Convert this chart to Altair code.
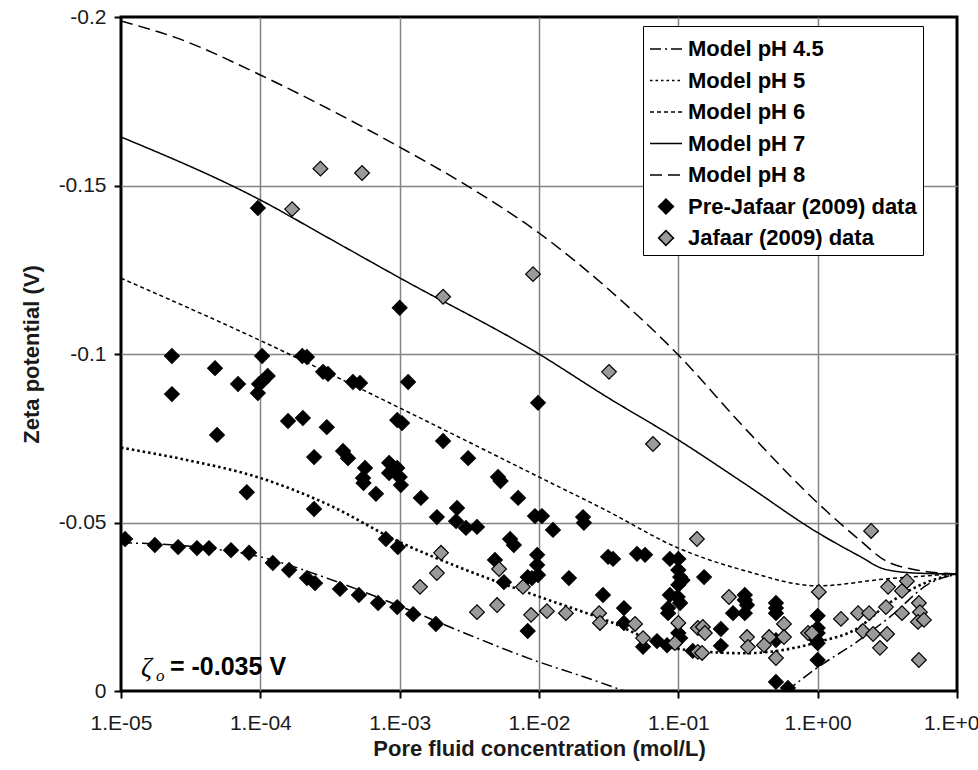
import altair as alt
import pandas as pd

SERIES = [
    "Model pH 4.5",
    "Model pH 5",
    "Model pH 6",
    "Model pH 7",
    "Model pH 8",
    "Pre-Jafaar (2009) data",
    "Jafaar (2009) data",
]

# ---- model curves (concentration in mol/L, zeta potential in V) ----
ph45_low_conc = [1e-5, 3e-5, 1e-4, 3e-4, 1e-3, 3e-3, 1e-2, 2e-2, 4.1e-2]
ph45_low_zeta = [-0.0440, -0.0430, -0.0398, -0.0335, -0.0252, -0.0170, -0.0086, -0.0045, 0.0]
ph45_high_conc = [0.6, 1.0, 1.9, 3.3, 6.4, 10.0]
ph45_high_zeta = [0.0, -0.0070, -0.0145, -0.0220, -0.0320, -0.0348]

ph5_conc = [1e-5, 3e-5, 1e-4, 3e-4, 1e-3, 3e-3, 1e-2, 3e-2, 1e-1, 3e-1, 1.0, 2.0, 3.0, 6.0, 10.0]
ph5_zeta = [-0.0722, -0.0685, -0.0632, -0.0555, -0.0442, -0.0359, -0.0280, -0.0211, -0.0125,
            -0.0112, -0.0145, -0.0190, -0.0250, -0.0322, -0.0348]

ph6_conc = [1e-5, 1e-4, 1e-3, 1e-2, 3e-2, 1e-1, 3e-1, 1.0, 3.0, 10.0]
ph6_zeta = [-0.1225, -0.1040, -0.0840, -0.0635, -0.0537, -0.0424, -0.0357, -0.0312, -0.0332, -0.0348]

ph7_conc = [1e-5, 1e-4, 3e-4, 1e-3, 1e-2, 3e-2, 1e-1, 3e-1, 1.0, 2.0, 3.0, 5.0, 10.0]
ph7_zeta = [-0.1644, -0.1457, -0.1347, -0.1226, -0.1000, -0.0875, -0.0745, -0.0615, -0.0470,
            -0.0400, -0.0362, -0.0350, -0.0347]

ph8_conc = [1e-5, 2.5e-5, 1e-4, 3e-4, 1e-3, 3e-3, 1e-2, 3e-2, 1e-1, 3e-1, 1.0, 2.0, 3.0, 5.0, 10.0]
ph8_zeta = [-0.1988, -0.1938, -0.1828, -0.1730, -0.1614, -0.1501, -0.1359, -0.1200, -0.0997,
            -0.0780, -0.0558, -0.0448, -0.0389, -0.0360, -0.0347]

# ---- measured data: pre-Jafaar (2009) compilation ----
pre_conc = [
    9.6e-5, 1.0e-3, 2.32e-5, 2.32e-5, 1.03e-4, 4.73e-5, 6.92e-5, 9.8e-5, 1.13e-4, 1.04e-4,
    9.6e-5, 2.0e-4, 2.16e-4, 2.82e-4, 3.06e-4, 4.62e-4, 5.19e-4, 1.15e-3, 9.6e-4, 1.04e-3,
    4.89e-5, 1.58e-4, 2.02e-4, 3.0e-4, 2.43e-4, 3.92e-4, 4.26e-4, 5.64e-4, 8.4e-4, 9.6e-4,
    8.4e-4, 1.0e-3, 5.46e-4, 8.0e-5, 2.43e-4, 5.5e-4, 6.76e-4, 1.02e-3, 7.97e-4, 9.7e-4,
    1.07e-5, 1.75e-5, 2.57e-5, 3.51e-5, 4.28e-5, 6.16e-5, 8.3e-5, 1.23e-4, 1.61e-4, 2.16e-4,
    2.47e-4, 3.73e-4, 5.1e-4, 7.0e-4, 9.6e-4, 9.84e-3, 2.05e-3, 3.1e-3, 5.08e-3, 1.25e-3,
    1.82e-3, 1.42e-3, 1.85e-3, 2.58e-3, 2.54e-3, 2.99e-3, 3.59e-3, 5.3e-3, 7.08e-3, 6.2e-3,
    6.6e-3, 4.83e-3, 5.6e-3, 9.35e-3, 1.05e-2, 1.26e-2, 9.7e-3, 9.7e-3, 9.84e-3, 8.9e-3,
    8.3e-3, 8.3e-3, 2.07e-2, 2.1e-2, 1.64e-2, 2.88e-2, 3.13e-2, 3.4e-2, 4.07e-2, 4.07e-2,
    5.05e-2, 5.77e-2, 5.58e-2, 7.03e-2, 8.3e-2, 0.087, 0.100, 0.100, 0.103, 0.107,
    0.100, 0.087, 0.099, 0.103, 0.0845, 0.0845, 0.100, 0.103, 0.127, 0.153,
    0.300, 0.300, 0.311, 0.300, 0.247, 0.502, 0.502, 0.502, 0.202, 0.202,
    0.502, 0.502, 0.612, 1.0, 1.0, 1.0, 0.98, 1.0, 1.0,
]
pre_zeta = [
    -0.1433, -0.1137, -0.0994, -0.0881, -0.0994, -0.0958, -0.0911, -0.0911, -0.0935, -0.0920,
    -0.0884, -0.0994, -0.0991, -0.0947, -0.0941, -0.0917, -0.0914, -0.0917, -0.0804, -0.0795,
    -0.0760, -0.0801, -0.0810, -0.0783, -0.0694, -0.0712, -0.0691, -0.0662, -0.0677, -0.0662,
    -0.0647, -0.0635, -0.0632, -0.0590, -0.0540, -0.0617, -0.0585, -0.0611, -0.0451, -0.0427,
    -0.0451, -0.0433, -0.0427, -0.0424, -0.0424, -0.0418, -0.0410, -0.0380, -0.0359, -0.0335,
    -0.0320, -0.0303, -0.0285, -0.0261, -0.0249, -0.0855, -0.0742, -0.0691, -0.0635, -0.0228,
    -0.0199, -0.0573, -0.0516, -0.0543, -0.0504, -0.0484, -0.0487, -0.0623, -0.0573, -0.0451,
    -0.0433, -0.0389, -0.0323, -0.0519, -0.0519, -0.0478, -0.0404, -0.0374, -0.0344, -0.0335,
    -0.0338, -0.0178, -0.0516, -0.0499, -0.0335, -0.0285, -0.0398, -0.0392, -0.0246, -0.0202,
    -0.0407, -0.0404, -0.0131, -0.0148, -0.0136, -0.0392, -0.0392, -0.0359, -0.0338, -0.0329,
    -0.0315, -0.0285, -0.0279, -0.0261, -0.0246, -0.0231, -0.0172, -0.0157, -0.0119, -0.0338,
    -0.0285, -0.0270, -0.0255, -0.0231, -0.0231, -0.0261, -0.0246, -0.0231, -0.0184, -0.0134,
    -0.0151, -0.0027, -0.0009, -0.0223, -0.0187, -0.0172, -0.0151, -0.0142, -0.0092,
]

# ---- measured data: Jafaar (2009) ----
jaf_conc = [
    2.7e-4, 5.37e-4, 1.69e-4, 9.06e-3, 2.05e-3, 3.18e-2, 6.58e-2, 1.98e-3, 1.85e-3, 1.4e-3,
    3.59e-3, 5.0e-3, 5.17e-3, 7.67e-3, 8.77e-3, 1.14e-2, 1.56e-2, 2.7e-2, 2.74e-2, 4.89e-2,
    5.58e-2, 9.46e-2, 0.100, 0.136, 0.138, 0.138, 0.231, 0.573, 0.150, 0.155,
    0.148, 0.311, 0.316, 0.448, 0.412, 0.573, 0.502, 0.853, 1.02, 0.91,
    1.47, 1.95, 2.34, 2.11, 2.5, 3.15, 2.8, 3.09, 3.2, 4.03,
    4.37, 4.03, 5.33, 5.42, 5.25, 5.79, 5.33, 2.42,
]
jaf_zeta = [
    -0.1550, -0.1537, -0.1430, -0.1237, -0.1170, -0.0947, -0.0733, -0.0410, -0.0350, -0.0309,
    -0.0234, -0.0255, -0.0362, -0.0309, -0.0226, -0.0237, -0.0231, -0.0231, -0.0202, -0.0199,
    -0.0157, -0.0142, -0.0202, -0.0451, -0.0187, -0.0116, -0.0279, -0.0199, -0.0190, -0.0172,
    -0.0113, -0.0160, -0.0131, -0.0160, -0.0136, -0.0160, -0.0098, -0.0172, -0.0294, -0.0172,
    -0.0214, -0.0231, -0.0231, -0.0178, -0.0169, -0.0169, -0.0128, -0.0249, -0.0309, -0.0297,
    -0.0326, -0.0231, -0.0261, -0.0234, -0.0205, -0.0211, -0.0092, -0.0475,
]

X_TICKS = [1e-5, 1e-4, 1e-3, 1e-2, 1e-1, 1.0, 10.0]
Y_TICKS = [-0.2, -0.15, -0.1, -0.05, 0.0]

# ---- tables ----
def curve(name, part, conc, zeta):
    return pd.DataFrame({"conc": conc, "zeta": zeta, "series": name, "part": part})

lines = pd.concat([
    curve(SERIES[0], "a", ph45_low_conc, ph45_low_zeta),
    curve(SERIES[0], "b", ph45_high_conc, ph45_high_zeta),
    curve(SERIES[1], "a", ph5_conc, ph5_zeta),
    curve(SERIES[2], "a", ph6_conc, ph6_zeta),
    curve(SERIES[3], "a", ph7_conc, ph7_zeta),
    curve(SERIES[4], "a", ph8_conc, ph8_zeta),
], ignore_index=True)

points = pd.concat([
    pd.DataFrame({"conc": pre_conc, "zeta": pre_zeta, "series": SERIES[5]}),
    pd.DataFrame({"conc": jaf_conc, "zeta": jaf_zeta, "series": SERIES[6]}),
], ignore_index=True)

FONT = "Liberation Sans"
W, H = 836, 674

LINE_PATH = "M-1,0H1"
DIAMOND_PATH = "M-0.46,0L0,-0.46L0.46,0L0,0.46Z"

legend = alt.Legend(
    title=None, orient="none", legendX=522, legendY=9,
    fillColor="white", strokeColor="black", padding=6,
    labelFont=FONT, labelFontSize=22, labelFontWeight="bold", labelColor="black",
    labelLimit=400, labelOffset=5, rowPadding=3.5,
    symbolSize=1024, symbolStrokeWidth=1.6,
)

dash_scale = alt.Scale(domain=SERIES, range=[[11, 4, 2, 4], [2.5, 3], [4, 3], [1, 0], [12, 6], [1, 0], [1, 0]])
shape_scale = alt.Scale(domain=SERIES, range=[LINE_PATH] * 5 + [DIAMOND_PATH] * 2)
fill_scale = alt.Scale(domain=SERIES, range=["black"] * 5 + ["black", "#9a9a9a"])
stroke_scale = alt.Scale(domain=SERIES, range=["black"] * 7)

x_enc = alt.X(
    "conc:Q",
    scale=alt.Scale(type="log", domain=[1e-5, 10], nice=False),
    axis=alt.Axis(
        values=X_TICKS,
        labelExpr="'1.E' + (log(datum.value)/LN10 < -0.5 ? '-' : '+') + '0' + abs(round(log(datum.value)/LN10))",
        title="Pore fluid concentration (mol/L)",
        titleX=W / 2, titleY=64, titleBaseline="alphabetic",
        labelPadding=14,
        gridOpacity={"condition": {"test": "datum.value <= 1e-5 || datum.value >= 10", "value": 0}, "value": 1},
    ),
)
y_enc = alt.Y(
    "zeta:Q",
    scale=alt.Scale(domain=[0, -0.2], nice=False, zero=False),
    axis=alt.Axis(
        values=Y_TICKS,
        labelExpr="datum.value == 0 ? '0' : toString(datum.value)",
        title="Zeta potential (V)",
        titleX=-78, titleY=H / 2,
        labelPadding=8,
        gridOpacity={"condition": {"test": "datum.value == 0 || datum.value <= -0.2", "value": 0}, "value": 1},
    ),
)

dash_enc = alt.StrokeDash("series:N", scale=dash_scale, legend=legend)

other_lines = alt.Chart(lines).transform_filter(
    alt.datum.series != SERIES[1]
).mark_line(color="black", strokeWidth=1.5, interpolate="monotone", clip=True).encode(
    x=x_enc, y=y_enc, strokeDash=dash_enc, detail="part:N", order="conc:Q"
)

dotted_line = alt.Chart(lines).transform_filter(
    alt.datum.series == SERIES[1]
).mark_line(color="black", strokeWidth=2.6, interpolate="monotone", clip=True).encode(
    x=x_enc, y=y_enc, strokeDash=dash_enc, order="conc:Q"
)

pts = alt.Chart(points).mark_point(
    filled=True, strokeWidth=1.2, size=1024, opacity=1, clip=True
).encode(
    x=x_enc, y=y_enc,
    shape=alt.Shape("series:N", scale=shape_scale, legend=legend),
    fill=alt.Fill("series:N", scale=fill_scale, legend=legend),
    stroke=alt.Stroke("series:N", scale=stroke_scale, legend=legend),
)

anno_src = pd.DataFrame({"k": [0]})
zeta_sym = alt.Chart(anno_src).mark_text(
    text="ζ", font="Liberation Serif", fontStyle="italic", fontSize=27, align="left",
    baseline="alphabetic", color="black"
).encode(x=alt.value(20), y=alt.value(659))
zeta_sub = alt.Chart(anno_src).mark_text(
    text="o", font="Liberation Serif", fontStyle="italic", fontSize=17, align="left",
    baseline="alphabetic", color="black"
).encode(x=alt.value(35), y=alt.value(664))
zeta_val = alt.Chart(anno_src).mark_text(
    text="= -0.035 V", font=FONT, fontWeight="bold", fontSize=25, align="left",
    baseline="alphabetic", color="black"
).encode(x=alt.value(49), y=alt.value(658))

chart = alt.layer(other_lines, dotted_line, pts, zeta_sym, zeta_sub, zeta_val).properties(
    width=W, height=H,
    autosize=alt.AutoSizeParams(type="none"),
    padding={"left": 121, "top": 17, "right": 21, "bottom": 79},
    background="white",
).configure_view(
    stroke="black", strokeWidth=3
).configure_axis(
    domain=False, labelFlush=False,
    grid=True, gridColor="#858585", gridWidth=1.5,
    ticks=True, tickColor="black", tickWidth=2, tickSize=7,
    labelFont=FONT, labelFontSize=21, labelColor="#1a1a1a",
    titleFont=FONT, titleFontSize=22, titleFontWeight="bold", titleColor="#1a1a1a",
)

chart.save("out.html", embed_options={"renderer": "svg", "actions": False})
